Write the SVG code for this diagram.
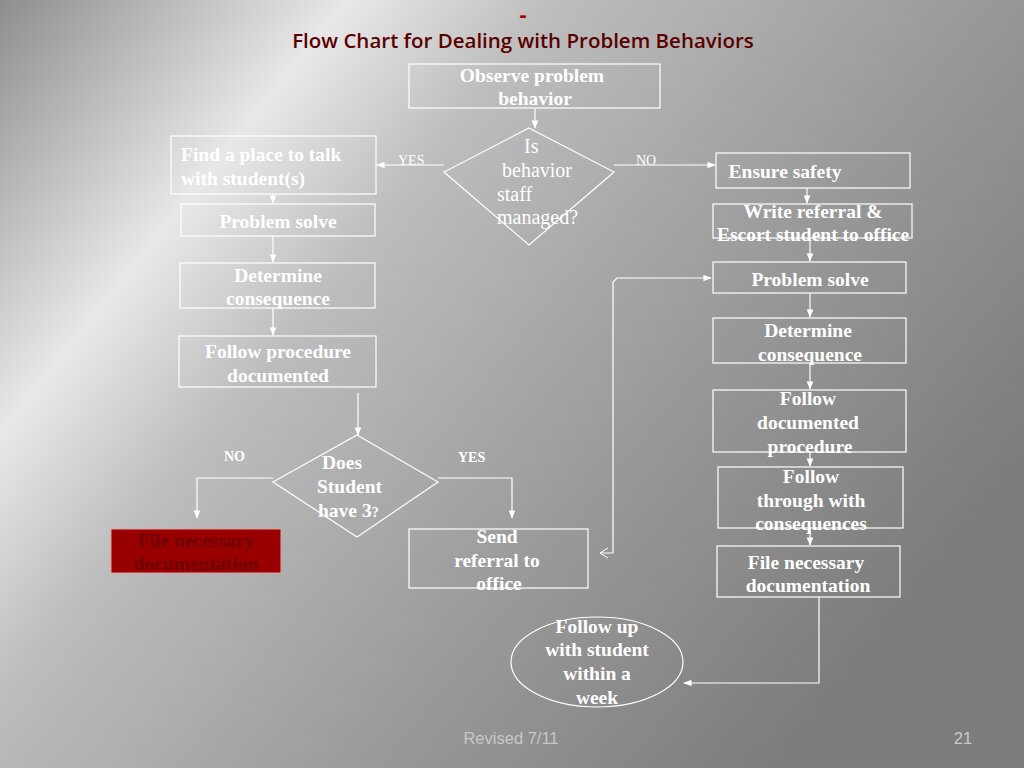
<svg xmlns="http://www.w3.org/2000/svg" width="1024" height="768" viewBox="0 0 1024 768">
<defs>
<linearGradient id="bg" x1="0" y1="0" x2="1" y2="0.6">
<stop offset="0" stop-color="#8e8e8e"/>
<stop offset="0.25" stop-color="#e8e8e8"/>
<stop offset="0.4" stop-color="#bdbdbd"/>
<stop offset="0.7" stop-color="#9a9a9a"/>
<stop offset="1" stop-color="#7c7c7c"/>
</linearGradient>
<marker id="a" viewBox="0 0 10 10" refX="9" refY="5" markerWidth="7" markerHeight="7" orient="auto"><path d="M0,1 L10,5 L0,9 z" fill="#fff"/></marker>
<style>
.b{fill:none;stroke:#fff;stroke-width:1.2}
.t{font-family:"Liberation Serif",serif;font-weight:bold;font-size:19.5px;fill:#fff;text-anchor:middle}
.s{font-family:"Liberation Serif",serif;font-size:20px;fill:#fff}
.l{font-family:"Liberation Serif",serif;font-size:14px;fill:#fff}
.c{stroke:#fff;stroke-width:1.2;fill:none;marker-end:url(#a)}
</style>
</defs>
<rect width="1024" height="768" fill="url(#bg)"/>
<text x="523" y="22" font-family="Open Sans,sans-serif" font-size="22" font-weight="bold" fill="#a00000" text-anchor="middle">-</text>
<text x="523" y="48" font-family="Open Sans,sans-serif" font-size="20.5" font-weight="600" fill="#5a0000" text-anchor="middle">Flow Chart for Dealing with Problem Behaviors</text>
<g id="n1"><rect class="b" x="409" y="64" width="251" height="44"/><text class="t" x="532" y="82">Observe problem</text><text class="t" x="535" y="105">behavior</text></g>
<g id="d1"><polygon class="b" points="529,128 614,172 529,245 444,172"/><text class="s" x="524" y="153">Is</text><text class="s" x="502" y="177">behavior</text><text class="s" x="497" y="201">staff</text><text class="s" x="497" y="224">managed?</text></g>
<g id="l1"><rect class="b" x="171" y="136" width="205" height="58"/><text class="t" x="181" y="161" style="text-anchor:start">Find a place to talk</text><text class="t" x="181" y="185" style="text-anchor:start">with student(s)</text></g>
<g id="l2"><rect class="b" x="181" y="204" width="194" height="32"/><text class="t" x="278" y="228">Problem solve</text></g>
<g id="l3"><rect class="b" x="180" y="263" width="195" height="45"/><text class="t" x="278" y="282">Determine</text><text class="t" x="278" y="305">consequence</text></g>
<g id="l4"><rect class="b" x="179" y="336" width="197" height="51"/><text class="t" x="278" y="358">Follow procedure</text><text class="t" x="278" y="382">documented</text></g>
<g id="d2"><polygon class="b" points="357,435 438,482 357,537 273,482"/><text class="t" x="322" y="469" style="text-anchor:start">Does</text><text class="t" x="317" y="493" style="text-anchor:start">Student</text><text class="t" x="318" y="517" style="text-anchor:start">have 3<tspan font-size="14">?</tspan></text></g>
<g id="red"><rect x="111" y="529" width="170" height="44" fill="#990000" stroke="#e0a0a0"/><text class="t" x="196" y="547" style="fill:#6e0000">File necessary</text><text class="t" x="196" y="570" style="fill:#6e0000">documentation</text></g>
<g id="send"><rect class="b" x="409" y="529" width="179" height="59"/><text class="t" x="497" y="543">Send</text><text class="t" x="497" y="567">referral to</text><text class="t" x="499" y="590">office</text></g>
<g id="r1"><rect class="b" x="716" y="153" width="194" height="35"/><text class="t" x="785" y="178">Ensure safety</text></g>
<g id="r2"><rect class="b" x="713" y="204" width="199" height="34"/><text class="t" x="813" y="218">Write referral &amp;</text><text class="t" x="813" y="241">Escort student to office</text></g>
<g id="r3"><rect class="b" x="713" y="262" width="193" height="31"/><text class="t" x="810" y="286">Problem solve</text></g>
<g id="r4"><rect class="b" x="713" y="318" width="193" height="45"/><text class="t" x="808" y="337">Determine</text><text class="t" x="810" y="361">consequence</text></g>
<g id="r5"><rect class="b" x="713" y="390" width="193" height="62"/><text class="t" x="808" y="405">Follow</text><text class="t" x="808" y="429">documented</text><text class="t" x="810" y="453">procedure</text></g>
<g id="r6"><rect class="b" x="718" y="467" width="185" height="61"/><text class="t" x="811" y="483">Follow</text><text class="t" x="811" y="507">through with</text><text class="t" x="811" y="530">consequences</text></g>
<g id="r7"><rect class="b" x="717" y="546" width="183" height="51"/><text class="t" x="806" y="569">File necessary</text><text class="t" x="808" y="592">documentation</text></g>
<g id="e"><ellipse class="b" cx="597" cy="662" rx="86" ry="45"/><text class="t" x="597" y="633">Follow up</text><text class="t" x="597" y="656">with student</text><text class="t" x="597" y="680">within a</text><text class="t" x="597" y="704">week</text></g>
<g id="connectors">
<line class="c" x1="535" y1="108" x2="535" y2="128"/>
<line class="c" x1="444" y1="165" x2="377" y2="165"/>
<line class="c" x1="614" y1="165" x2="715" y2="165"/>
<line class="c" x1="273" y1="194" x2="273" y2="203"/>
<line class="c" x1="273" y1="236" x2="273" y2="262"/>
<line class="c" x1="273" y1="308" x2="273" y2="335"/>
<line class="c" x1="358" y1="393" x2="358" y2="435"/>
<polyline class="c" points="273,478 197,478 197,518"/>
<polyline class="c" points="438,478 512,478 512,518"/>
<line class="c" x1="807" y1="188" x2="807" y2="203"/>
<line class="c" x1="810" y1="238" x2="810" y2="261"/>
<line class="c" x1="810" y1="293" x2="810" y2="317"/>
<line class="c" x1="810" y1="363" x2="810" y2="389"/>
<line class="c" x1="810" y1="452" x2="810" y2="466"/>
<line class="c" x1="810" y1="528" x2="810" y2="545"/>
<polyline class="c" points="819,597 819,683 684,683"/>
<polyline class="c" points="613,553 613,282 617,278 711,278"/>
<polyline points="613,553 600,553" stroke="#fff" stroke-width="1" fill="none"/>
<polyline points="608,548 600,553 608,558" stroke="#fff" stroke-width="1" fill="none"/>
</g>
<text class="l" x="398" y="165">YES</text>
<text class="l" x="636" y="165">NO</text>
<text class="l" x="224" y="461" font-weight="bold">NO</text>
<text class="l" x="458" y="462" font-weight="bold">YES</text>
<text x="511" y="744" font-family="Liberation Sans,sans-serif" font-size="16.5" fill="#c8c8c8" text-anchor="middle">Revised 7/11</text>
<text x="963" y="744" font-family="Liberation Sans,sans-serif" font-size="16.5" fill="#c8c8c8" text-anchor="middle">21</text>
</svg>
